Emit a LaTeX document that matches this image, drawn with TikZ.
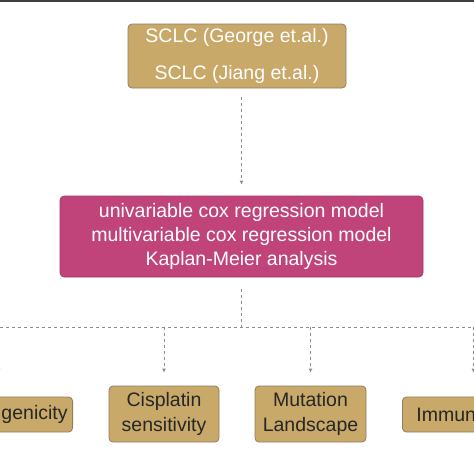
\documentclass[tikz,border=0pt]{standalone}
\usepackage{fontspec}
\setmainfont{Liberation Sans}
\usetikzlibrary{arrows.meta}
\definecolor{tanbox}{HTML}{C9A96A}
\definecolor{tanedge}{HTML}{8E7E62}
\definecolor{pinkbox}{HTML}{C0447A}
\definecolor{pinkedge}{HTML}{9C3A66}
\definecolor{dashgray}{HTML}{8C8C8C}

\begin{document}
\begin{tikzpicture}[x=1pt, y=-1pt]
    \tikzset{source/.style = {draw=tanedge, fill=tanbox, rounded corners=4pt, line width=0.8pt, text=white, font=\fontsize{19.5}{24}\selectfont, align=center, inner sep=0pt}}
    \tikzset{method/.style = {draw=pinkedge, fill=pinkbox, rounded corners=4pt, line width=0.6pt, text=white, font=\fontsize{19.5}{24}\selectfont, align=center, inner sep=0pt}}
    \tikzset{result/.style = {draw=tanedge, fill=tanbox, rounded corners=4pt, line width=0.8pt, text=black!85, font=\fontsize{19.5}{25}\selectfont, align=center, inner sep=0pt}}
    \tikzset{line/.style = {draw=dashgray, line width=1pt, dash pattern=on 3pt off 3pt}}
    \tikzset{link/.style = {line, -{Latex[length=4pt, width=4pt]}}}

    \useasboundingbox (0,0) rectangle (474,474);
    \clip (0,0) rectangle (474,474);
    \fill[white] (0,0) rectangle (474,474);
    \fill[black!75] (0,0) rectangle (474,2);

    % vertices
    \node[source, minimum width=218pt, minimum height=64pt] (t) at (237,56) {SCLC (George et.al.)\\[13pt]SCLC (Jiang et.al.)};
    \node[method, minimum width=363pt, minimum height=81pt] (m) at (241.5,236.5) {univariable cox regression model\\multivariable cox regression model\\Kaplan-Meier analysis};
    \node[result, anchor=east, text width=138pt, align=right, inner xsep=5pt, minimum height=35pt] (b1) at (73,414.5) {genicity};
    \node[result, minimum width=110pt, minimum height=56pt] (b2) at (164,414) {Cisplatin\\sensitivity};
    \node[result, minimum width=111pt, minimum height=56pt] (b3) at (310.5,414) {Mutation\\Landscape};
    \node[result, anchor=west, text width=114pt, align=left, inner xsep=14pt, minimum height=35pt] (b4) at (402,414.5) {Immun};

    \coordinate (hub) at (241.5,327);
    \coordinate (hl) at (0,327);
    \coordinate (hr) at (474,327);

    % edges
    \draw[link, shorten <=9pt, shorten >=11pt] (t.south -| m.north) -- (m.north);
    \draw[line, shorten <=12pt] (m.south) -- (hub);
    \draw[line] (hl) -- (hr);
    \draw[link, shorten >=24pt] (b1.north |- hub) -- (b1.north);
    \draw[link, shorten >=13pt] (b2.north |- hub) -- (b2.north);
    \draw[link, shorten >=13pt] (b3.north |- hub) -- (b3.north);
    \draw[link, shorten >=24pt] (b4.north |- hub) -- (b4.north);
\end{tikzpicture}
\end{document}
